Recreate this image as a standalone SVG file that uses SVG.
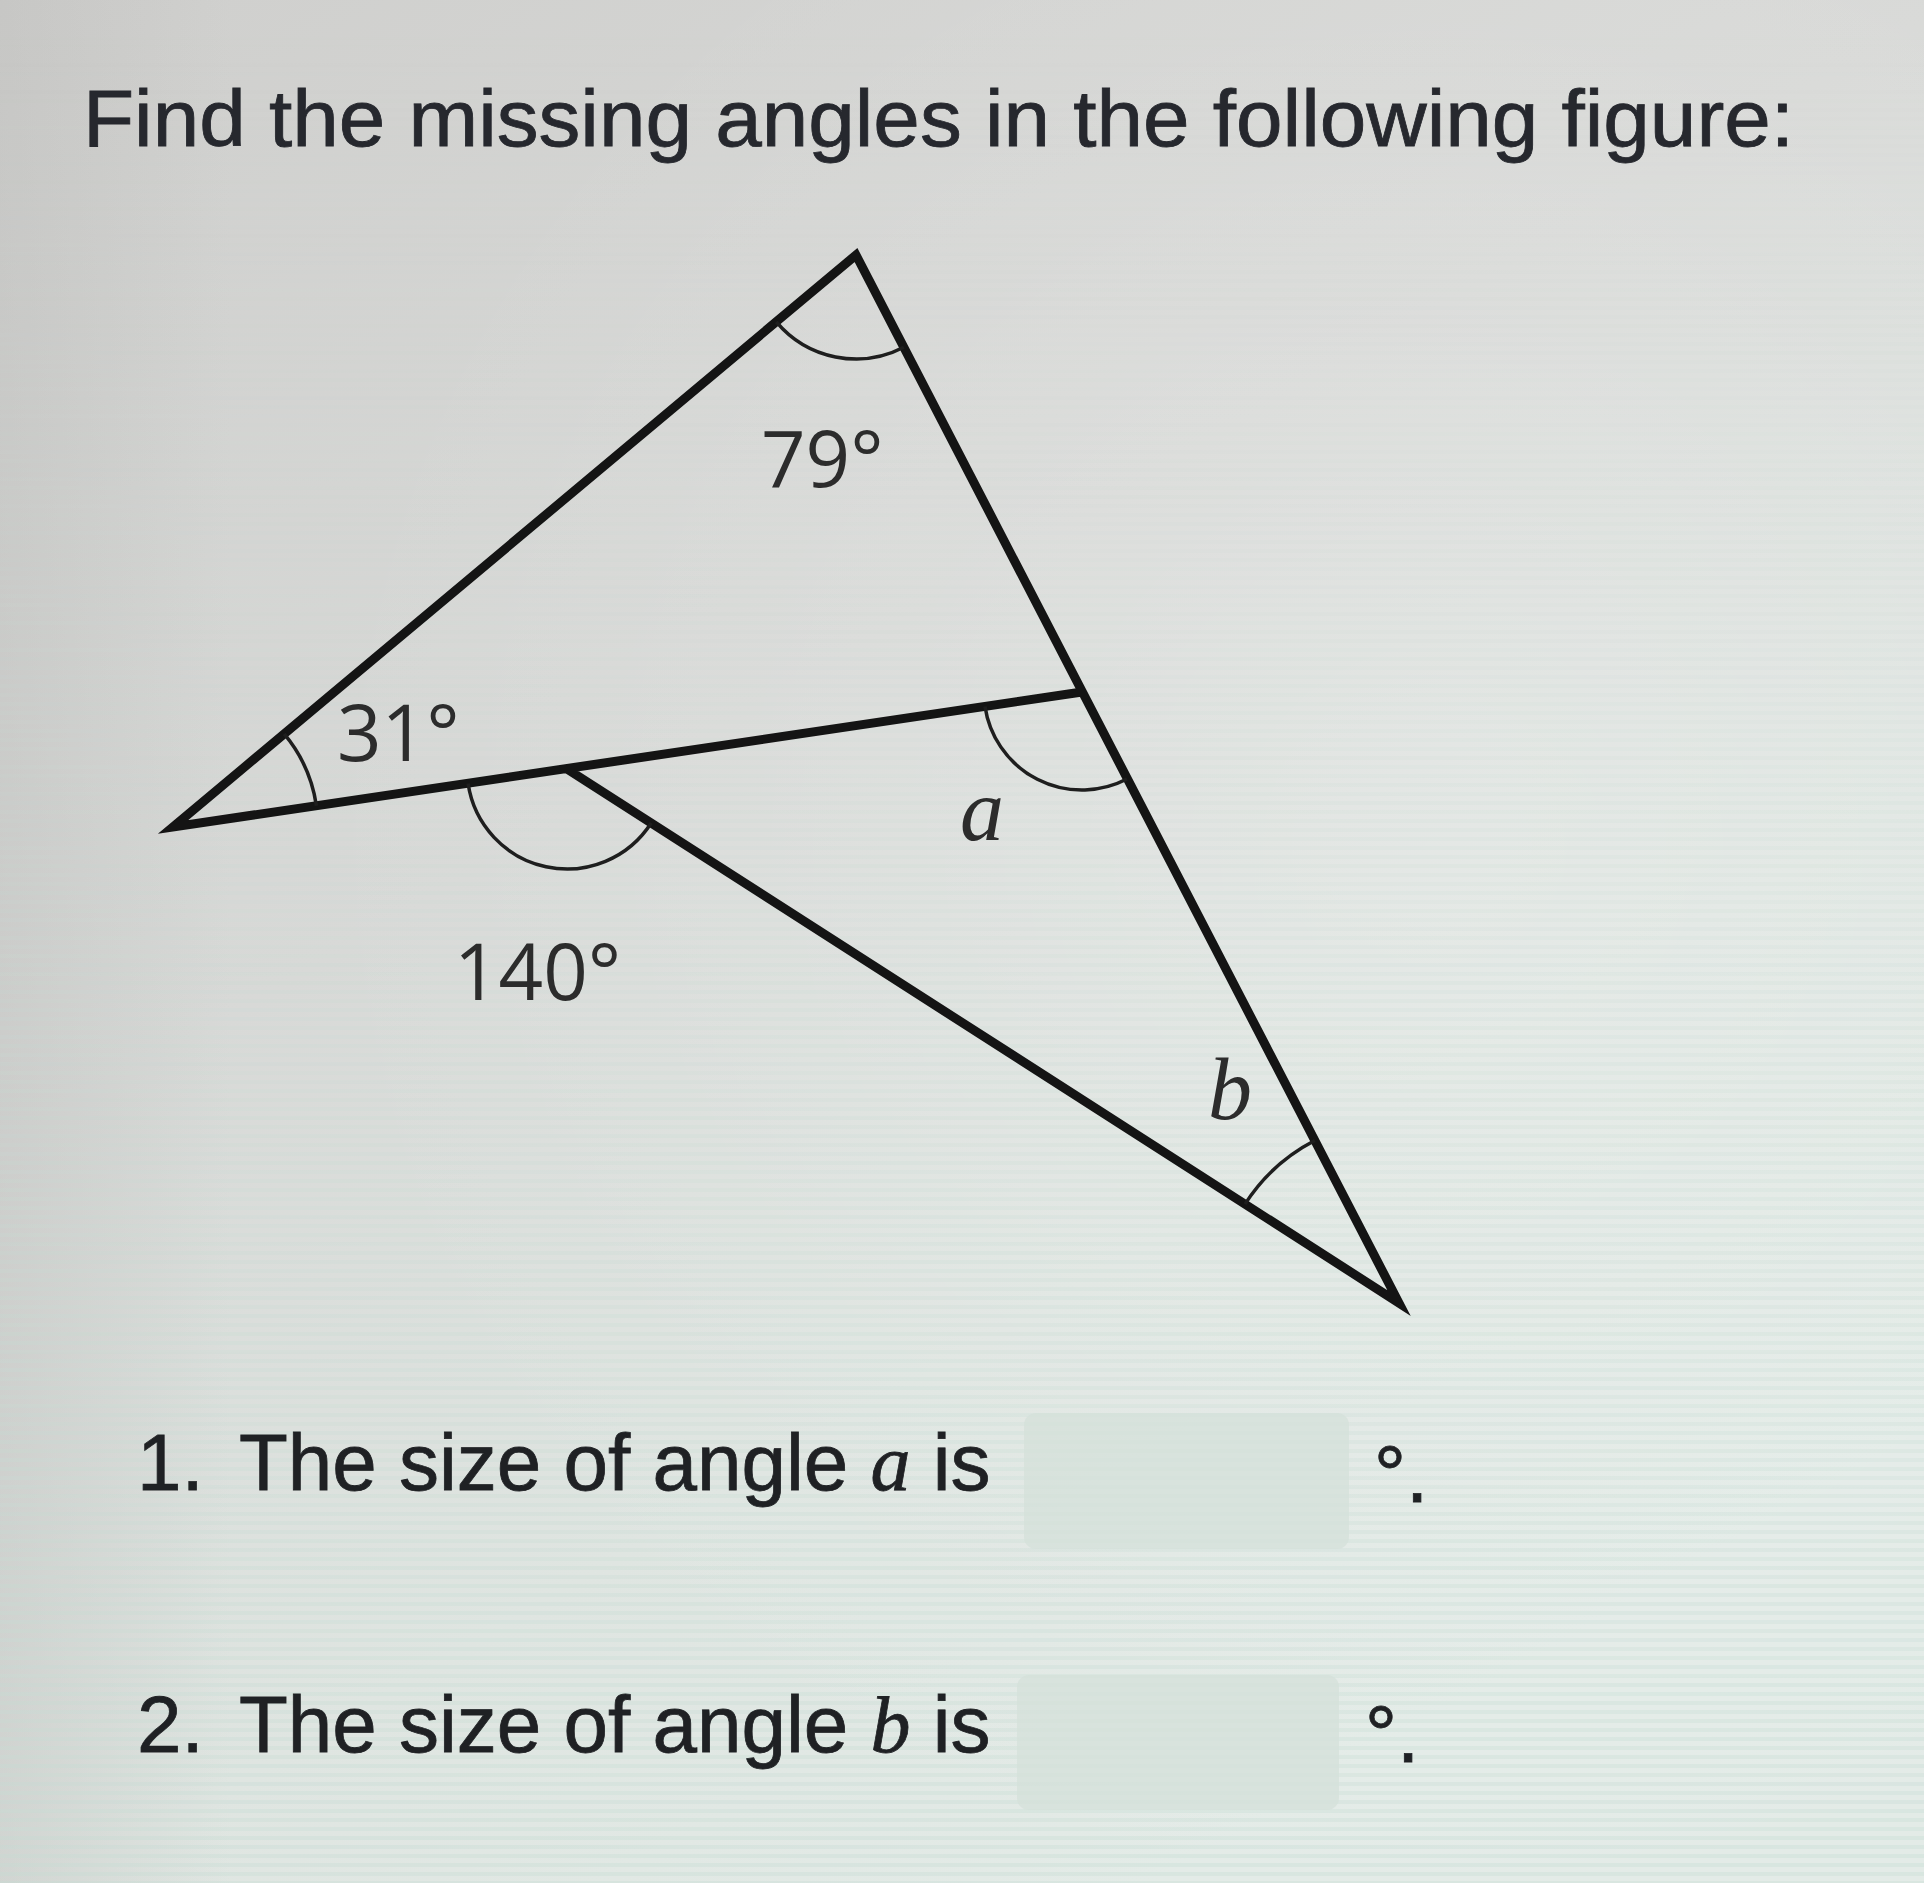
<svg xmlns="http://www.w3.org/2000/svg" width="1924" height="1883" viewBox="0 0 1924 1883">
  <defs>
    <linearGradient id="bg" x1="0" y1="0" x2="0.6" y2="1">
      <stop offset="0" stop-color="#cfcfcd"/>
      <stop offset="0.45" stop-color="#d8d9d7"/>
      <stop offset="0.75" stop-color="#dfe5e1"/>
      <stop offset="1" stop-color="#e3ebe7"/>
    </linearGradient>
    <linearGradient id="leftShade" x1="0" y1="0" x2="1" y2="0">
      <stop offset="0" stop-color="#b8b8b6" stop-opacity="0.35"/>
      <stop offset="0.12" stop-color="#b8b8b6" stop-opacity="0"/>
    </linearGradient>
    <radialGradient id="glow" cx="0.75" cy="0.45" r="0.6">
      <stop offset="0" stop-color="#ffffff" stop-opacity="0.22"/>
      <stop offset="1" stop-color="#ffffff" stop-opacity="0"/>
    </radialGradient>
    <pattern id="stripes" width="40" height="9" patternUnits="userSpaceOnUse">
      <rect width="40" height="4" fill="#c6dcd2" opacity="0.35"/>
    </pattern>
    <linearGradient id="fadeIn" x1="0" y1="0" x2="0" y2="1">
      <stop offset="0" stop-color="#fff" stop-opacity="0"/>
      <stop offset="0.45" stop-color="#fff" stop-opacity="0.4"/>
      <stop offset="1" stop-color="#fff" stop-opacity="1"/>
    </linearGradient>
    <mask id="stripeMask">
      <rect width="1924" height="1883" fill="url(#fadeIn)"/>
    </mask>
  </defs>
  <style>
    .edge { fill: none; stroke: #141414; stroke-width: 9; stroke-linejoin: miter; stroke-miterlimit: 10; stroke-linecap: round; }
    .arc { fill: none; stroke: #1e1e1e; stroke-width: 3.5; }
    .lbl { font-family: "Open Sans", "Noto Sans", sans-serif; font-size: 78px; fill: #2c2c2c; }
    .var { font-family: "Liberation Serif", "DejaVu Serif", serif; font-style: italic; font-size: 88px; fill: #2c2c2c; }
    .title { font-family: "Liberation Sans", Arial, sans-serif; font-size: 80px; fill: #26282e; stroke: #26282e; stroke-width: 0.8; }
    .q { font-family: "Liberation Sans", Arial, sans-serif; font-size: 80px; fill: #1f2124; stroke: #1f2124; stroke-width: 0.8; }
    .qv { font-family: "Liberation Serif", "DejaVu Serif", serif; font-style: italic; }
    .box { fill: #d4e0d9; opacity: 0.75; }
  </style>

  <rect width="1924" height="1883" fill="url(#bg)"/>
  <rect width="1924" height="1883" fill="url(#leftShade)"/>
  <rect width="1924" height="1883" fill="url(#glow)"/>
  <rect width="1924" height="1883" fill="url(#stripes)" mask="url(#stripeMask)"/>

  <g id="title">
    <text class="title" x="83" y="146" textLength="1711" lengthAdjust="spacingAndGlyphs">Find the missing angles in the following figure:</text>
  </g>

  <g id="figure-lines">
    <path class="edge" d="M1082,692 L173,827 L856,255 L1399,1303 L567,769"/>
  </g>

  <g id="angle-arcs">
    <path id="arc-79" class="arc" d="M776.3,321.8 A104,104 0 0 0 903.8,347.3"/>
    <path id="arc-31" class="arc" d="M284.2,733.9 A145,145 0 0 1 316.4,805.7"/>
    <path id="arc-140" class="arc" d="M468.1,783.6 A100,100 0 0 0 651.2,823"/>
    <path id="arc-a" class="arc" d="M985,706.4 A98,98 0 0 0 1127,779"/>
    <path id="arc-b" class="arc" d="M1245,1204.1 A183,183 0 0 1 1314.8,1140.5"/>
  </g>

  <g id="labels">
    <text id="lbl-79" class="lbl" x="761" y="487">79°</text>
    <text id="lbl-31" class="lbl" x="337" y="761">31°</text>
    <text id="lbl-140" class="lbl" x="454" y="1000">140°</text>
    <text id="lbl-a" class="var" x="960" y="840">a</text>
    <text id="lbl-b" class="var" x="1208" y="1119">b</text>
  </g>

  <g id="question-1">
    <text class="q" x="137" y="1490">1.<tspan x="239">The size of angle </tspan><tspan class="qv">a</tspan> is</text>
    <rect class="box" x="1024" y="1413" width="325" height="136" rx="12"/>
    <text class="q" x="1374" y="1502">°.</text>
  </g>

  <g id="question-2">
    <text class="q" x="137" y="1752">2.<tspan x="239">The size of angle </tspan><tspan class="qv">b</tspan> is</text>
    <rect class="box" x="1017" y="1675" width="322" height="135" rx="12"/>
    <text class="q" x="1365" y="1762">°.</text>
  </g>
</svg>
